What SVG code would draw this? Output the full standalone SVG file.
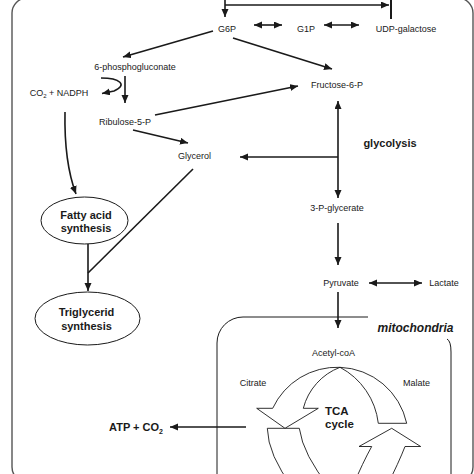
<svg xmlns="http://www.w3.org/2000/svg" width="474" height="474" viewBox="0 0 474 474">
<defs>
<marker id="ah" markerUnits="userSpaceOnUse" markerWidth="9" markerHeight="8" refX="8" refY="3.5" orient="auto-start-reverse">
<path d="M0,0 L8,3.5 L0,7 z" fill="#1a1a1a"/>
</marker>
<style>
.t{font-family:"Liberation Sans",Arial,sans-serif;font-size:9px;fill:#1a1a1a;text-anchor:middle}
.b{font-family:"Liberation Sans",Arial,sans-serif;font-weight:bold;font-size:11px;fill:#1a1a1a;text-anchor:middle}
.c{fill:none;stroke:#1a1a1a;stroke-width:1.6}
.a{marker-end:url(#ah)}
.d{marker-start:url(#ah);marker-end:url(#ah)}
.ring{fill:#fff;stroke:#1a1a1a;stroke-width:0.9;stroke-linejoin:miter}
.ell{fill:#fff;stroke:#1a1a1a;stroke-width:1}
</style>
</defs>
<rect x="0" y="0" width="474" height="474" fill="#fff"/>
<g id="cell">
<rect x="12" y="-2" width="461" height="484" rx="15" ry="15" fill="none" stroke="#555" stroke-width="1.4"/>
</g>
<g id="mitochondria">
<path d="M368,317 L243,317 A26,26 0 0 0 217,343 L217,480" fill="none" stroke="#1a1a1a" stroke-width="1"/>
<path d="M447,339 Q451,341 451,352 L451,480" fill="none" stroke="#1a1a1a" stroke-width="1"/>
<text x="415.5" y="332" class="b" style="font-style:italic;font-size:12px">mitochondria</text>
</g>
<g id="tca">
<path class="ring" d="M267.3,428.3 L299.3,428.3 Q303,455 330,488 L293,488 Q268,455 267.3,428.3 Z"/>
<path class="ring" d="M391.7,428.3 L420.7,446.5 L405,446.5 Q399,462 386,488 L352,488 Q363,462 371.7,446.5 L359,446.5 Z"/>
<path class="ring" d="M340,367.3 A71,71 0 0 1 406.7,423.3 L378.3,423.3 A73,73 0 0 0 340,367.3 Z"/>
<path class="ring" d="M340,367.3 A71,71 0 0 0 272.7,408.3 L256.7,408.3 L285,428.3 L318.3,408.3 L303.3,408.3 A60,60 0 0 1 340,367.3 Z"/>
<text x="325" y="415" class="b" style="text-anchor:start;font-size:11.5px">TCA</text>
<text x="325" y="428" class="b" style="text-anchor:start;font-size:11.5px">cycle</text>
</g>
<g id="connectors">
<path class="c a" d="M225,-2 L225,17"/>
<path class="c a" d="M225,5 L389,5"/>
<path class="c" d="M391,-2 L391,19" style="stroke-width:2"/>
<path class="c d" d="M254,25 L282,25"/>
<path class="c d" d="M324,25 L359,25"/>
<path class="c a" d="M213,31 L123,57"/>
<path class="c a" d="M233,38 L332,69"/>
<path class="c a" d="M125,76 L125,103"/>
<path class="c a" d="M101,78 C120,78 128,85 114,91 L102,93.5"/>
<path class="c a" d="M155,115 L298,86"/>
<path class="c a" d="M133,130 L188,143"/>
<path class="c d" d="M338,101 L338,198"/>
<path class="c a" d="M338,157 L240,157"/>
<path class="c a" d="M338,223 L338,265"/>
<path class="c d" d="M369,283 L422,283"/>
<path class="c a" d="M338,292 L338,328"/>
<path class="c a" d="M65,112 Q64,162 76,194"/>
<path class="c" d="M193,169 L88,273"/>
<path class="c a" d="M88,244 L88,291"/>
<path class="c a" d="M246,427 L170,427"/>
</g>
<g id="n-g6p"><text x="227" y="32" class="t">G6P</text></g>
<g id="n-g1p"><text x="306" y="32" class="t">G1P</text></g>
<g id="n-udpgal"><text x="406" y="32" class="t">UDP-galactose</text></g>
<g id="n-6pg"><text x="135" y="70" class="t">6-phosphogluconate</text></g>
<g id="n-f6p"><text x="337" y="88" class="t">Fructose-6-P</text></g>
<g id="n-co2nadph"><text x="59" y="96" class="t">CO<tspan font-size="6" dy="2">2</tspan><tspan dy="-2"> + NADPH</tspan></text></g>
<g id="n-ribulose"><text x="125" y="125" class="t">Ribulose-5-P</text></g>
<g id="n-glycerol"><text x="194.5" y="159" class="t">Glycerol</text></g>
<g id="n-glycolysis"><text x="390" y="147" class="b">glycolysis</text></g>
<g id="n-3pg"><text x="337" y="211" class="t">3-P-glycerate</text></g>
<g id="n-pyruvate"><text x="341" y="286" class="t">Pyruvate</text></g>
<g id="n-lactate"><text x="444" y="286" class="t">Lactate</text></g>
<g id="n-acetylcoa"><text x="333.5" y="356" class="t">Acetyl-coA</text></g>
<g id="n-citrate"><text x="253" y="386" class="t">Citrate</text></g>
<g id="n-malate"><text x="416.5" y="386" class="t">Malate</text></g>
<g id="n-isocitrate"><text x="235" y="480.5" class="t" style="text-anchor:start">Isocitrate</text></g>
<g id="n-atp"><text x="136" y="431" class="b">ATP + CO<tspan font-size="7" dy="2.5">2</tspan></text></g>
<g id="n-fas">
<ellipse cx="84.5" cy="220.5" rx="43.5" ry="23.5" class="ell"/>
<text x="86" y="219" class="b">Fatty acid</text>
<text x="86" y="232" class="b">synthesis</text>
</g>
<g id="n-tgs">
<ellipse cx="87.5" cy="318.5" rx="52.5" ry="26.5" class="ell"/>
<text x="86.5" y="316" class="b">Triglycerid</text>
<text x="86.5" y="330" class="b">synthesis</text>
</g>
</svg>
